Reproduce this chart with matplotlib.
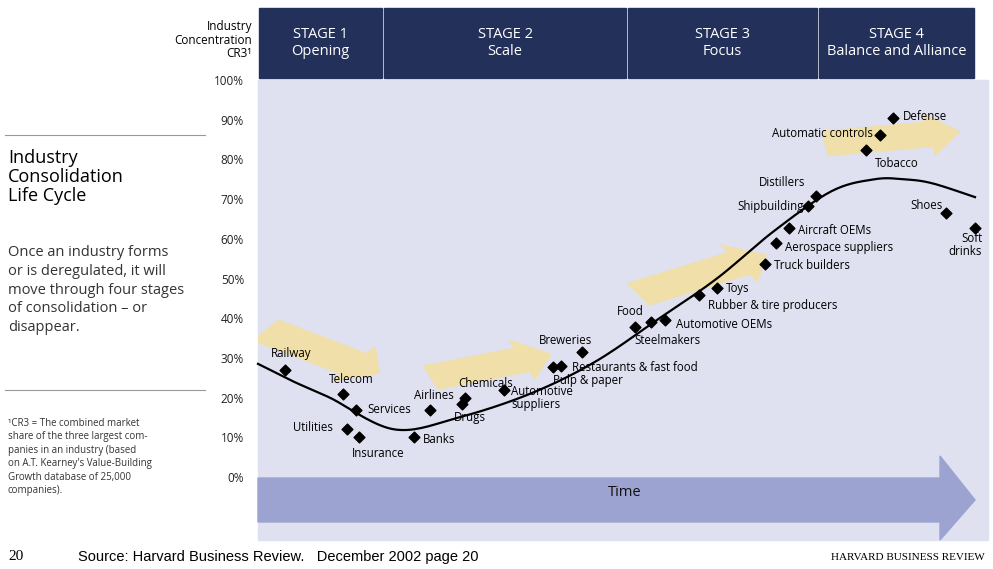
import numpy as np
import matplotlib
matplotlib.use("Agg")
import matplotlib.pyplot as plt
from matplotlib.patches import Rectangle, FancyArrow, Polygon

names = ["Railway","Telecom","Services","Utilities","Insurance","Banks","Airlines","Chemicals","Drugs",
         "Automotive\nsuppliers","Breweries","Restaurants & fast food","Pulp & paper","Food","Steelmakers",
         "Automotive OEMs","Rubber & tire producers","Toys","Truck builders","Aerospace suppliers",
         "Aircraft OEMs","Shipbuilding","Distillers","Tobacco","Automatic controls","Defense","Shoes","Soft\ndrinks"]
time_pos = [3.8,11.9,13.7,12.4,14.1,21.8,24.0,28.9,28.5,34.3,45.2,42.3,41.1,52.6,54.8,56.8,61.5,64.0,70.7,72.2,74.0,76.7,77.8,84.8,86.7,88.6,96.0,100.0]
cr3 = [27,21,17,12,10,10,17,20,18.4,22,31.5,28,27.7,37.8,39,39.5,45.8,47.6,53.7,59,62.7,68.3,70.8,82.4,86.1,90.4,66.5,62.7]
label_off = [(-2,4,'left'),(-2,3.5,'left'),(1.5,0,'left'),(-2,0.5,'right'),(-1,-4,'left'),(1.2,-0.5,'left'),
             (-2.2,3.5,'left'),(-1,3.5,'left'),(-1.2,-3.5,'left'),(1,-2,'left'),(-6,3,'left'),(1.5,-0.3,'left'),
             (0,-3.5,'left'),(-2.5,4,'left'),(-2.3,-4.5,'left'),(1.5,-1,'left'),(1.3,-2.5,'left'),(1.2,-0.2,'left'),
             (1.3,-0.5,'left'),(1.3,-1.3,'left'),(1.3,-0.5,'left'),(-0.5,-0.2,'right'),(-1.5,3.3,'right'),
             (1.3,-3.5,'left'),(-1,0.5,'right'),(1.4,0.5,'left'),(-0.5,2,'right'),(1,-4.3,'right')]
stage_titles = ["STAGE 1\nOpening","STAGE 2\nScale","STAGE 3\nFocus","STAGE 4\nBalance and Alliance"]
stage_edges = [0,17.4,51.5,78.1,100]
curve_t = [0,5,10,19,28,38,47,56,64,72,80,86,90,94,100]
curve_y = [28.5,24,20,12,15,21,29,40,50,62,72,75,75,74,70.5]
yticks = [0,10,20,30,40,50,60,70,80,90,100]

W,H=993,569
fig=plt.figure(figsize=(W/100,H/100),dpi=100)
def fx(p): return p/W
def fy(p): return 1-p/H
fig.patches.append(Rectangle((fx(258),fy(540)),fx(730),fy(80)-fy(540),transform=fig.transFigure,color="#dfe0f0",zorder=0))
fig.patches.append(Polygon([(fx(258),fy(478)),(fx(940),fy(478)),(fx(940),fy(456)),(fx(975),fy(500)),
                            (fx(940),fy(540)),(fx(940),fy(522)),(fx(258),fy(522))],closed=True,
                           transform=fig.transFigure,color="#9da3d0",zorder=1))
ax=fig.add_axes([fx(258),fy(477),fx(975)-fx(258),fy(80)-fy(477)])
ax.set_zorder(5)
ax.set_xlim(0,100);ax.set_ylim(0,100)
ax.patch.set_alpha(0)
for s in ax.spines.values(): s.set_visible(False)
ax.set_xticks([])
ax.set_yticks(yticks)
ax.set_yticklabels([f"{v}%" for v in yticks],fontsize=8.5,family="Open Sans",color="#222")
ax.tick_params(axis='y',length=0,pad=10)
for i,t in enumerate(stage_titles):
    x0=fx(258)+(fx(975)-fx(258))*stage_edges[i]/100
    x1=fx(258)+(fx(975)-fx(258))*stage_edges[i+1]/100
    fig.patches.append(Rectangle((x0+0.001,fy(78)),x1-x0-0.002,fy(8)-fy(78),transform=fig.transFigure,color="#23305a",zorder=1))
    fig.text((x0+x1)/2,fy(43),t,color="white",ha="center",va="center",fontsize=10.5,family="Open Sans",linespacing=1.1)
arrows=[(1,37,16,-11),(24,25,17,6),(53,46,18,10),(79,84,19,3)]
for x,y,dx,dy in arrows:
    ax.add_patch(FancyArrow(x,y,dx,dy,width=6.5,head_width=11,head_length=4.5,length_includes_head=True,
                            color="#f2dfa0",alpha=0.9,lw=0,zorder=1))
fig.text(fx(625),fy(493),"Time",ha="center",va="center",fontsize=10.5,family="Open Sans",color="#111")
pts=np.array(list(zip(curve_t,curve_y)),float)
P=np.vstack([pts[0],pts,pts[-1]]);cx=[];cy=[]
for i in range(1,len(P)-2):
    for s in np.linspace(0,1,20):
        p0,p1,p2,p3=P[i-1],P[i],P[i+1],P[i+2]
        q=0.5*((2*p1)+(-p0+p2)*s+(2*p0-5*p1+4*p2-p3)*s**2+(-p0+3*p1-3*p2+p3)*s**3)
        cx.append(q[0]);cy.append(q[1])
ax.plot(cx,cy,color="black",lw=1.6,zorder=3,clip_on=False)
ax.scatter(time_pos,cr3,marker="D",s=30,color="black",zorder=4,clip_on=False)
for n,x,y,(dx,dy,ha) in zip(names,time_pos,cr3,label_off):
    ax.text(x+dx,y+dy,n,fontsize=8.3,family="Open Sans",ha=ha,va="center",zorder=5,linespacing=1.0)
fig.text(fx(252),fy(40),"Industry\nConcentration\nCR3¹",ha="right",va="center",fontsize=8.5,family="Open Sans",linespacing=1.05)
fig.add_artist(plt.Line2D([fx(5),fx(205)],[fy(135),fy(135)],color="#999",lw=0.8))
fig.text(fx(8),fy(177),"Industry\nConsolidation\nLife Cycle",fontsize=13,family="Open Sans",va="center",linespacing=1.05)
fig.text(fx(8),fy(290),"Once an industry forms\nor is deregulated, it will\nmove through four stages\nof consolidation – or\ndisappear.",
         fontsize=10.5,family="Open Sans",va="center",color="#333",linespacing=1.35)
fig.add_artist(plt.Line2D([fx(5),fx(205)],[fy(390),fy(390)],color="#999",lw=0.8))
fig.text(fx(8),fy(457),"¹CR3 = The combined market\nshare of the three largest com-\npanies in an industry (based\non A.T. Kearney's Value-Building\nGrowth database of 25,000\ncompanies).",
         fontsize=7,family="Open Sans",va="center",color="#333",linespacing=1.3)
fig.text(fx(8),fy(557),"20",fontsize=11,va="center",family="Liberation Serif")
fig.text(fx(78),fy(557),"Source: Harvard Business Review.   December 2002 page 20",fontsize=10.5,va="center",family="Liberation Sans")
fig.text(fx(985),fy(557),"HARVARD BUSINESS REVIEW",fontsize=8,ha="right",va="center",family="Liberation Serif")
fig.savefig("out.png",dpi=100)
